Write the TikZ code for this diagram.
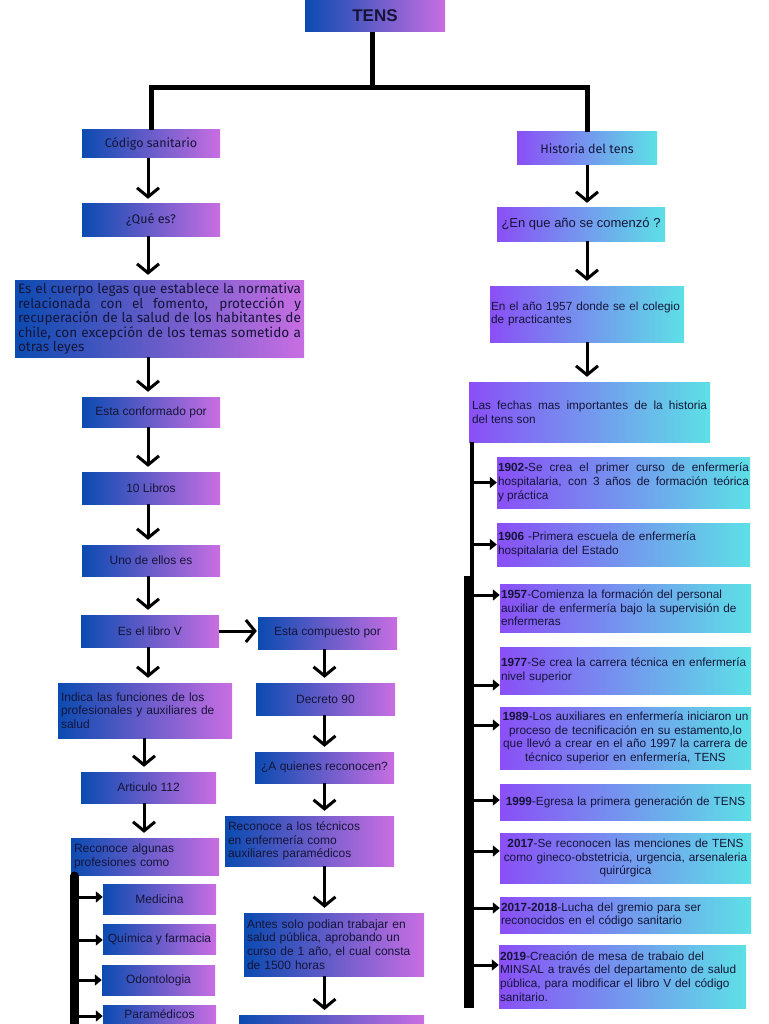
\documentclass[tikz,border=0pt]{standalone}
\usepackage{fontspec}
\setmainfont{Liberation Sans}
\newfontfamily\canvafont{Fira Sans}
\usetikzlibrary{arrows.meta}

\definecolor{codeblue}{HTML}{0B4BB1}
\definecolor{codepink}{HTML}{C86EE2}
\definecolor{histpurple}{HTML}{8A4FF6}
\definecolor{histcyan}{HTML}{5DE0E6}
\definecolor{ink}{HTML}{15153A}

\begin{document}
\begin{tikzpicture}[
    x=1pt, y=-1pt,
    font=\fontsize{12pt}{13.7pt}\selectfont,
    canva/.style={font=\canvafont\fontsize{12.5pt}{13.7pt}\selectfont},
    codebox/.style={rectangle, left color=codeblue, right color=codepink, text=ink, inner xsep=3pt, inner ysep=2pt},
    histbox/.style={rectangle, left color=histpurple, right color=histcyan, text=ink, inner xsep=1pt, inner ysep=2pt,
        font=\fontsize{11.8pt}{13.7pt}\selectfont},
    down/.style={line width=3pt, -{Straight Barb[length=9pt, width=22pt, line width=3pt]}, shorten >=5pt},
    branch/.style={line width=3pt, -{Triangle[length=7pt, width=11pt]}},
    trunk/.style={line width=5pt},
    spine/.style={line width=9pt, line cap=round}
]
    \useasboundingbox (0,0) rectangle (768,1024);

    % root
    \node[codebox, font=\bfseries\fontsize{17pt}{20pt}\selectfont, minimum width=140pt, minimum height=32pt] (tens) at (375,16) {TENS};

    % codigo sanitario
    \node[codebox, canva, minimum width=138pt, minimum height=28pt] (codigo) at (151,144) {Código sanitario};
    \node[codebox, canva, minimum width=138pt, minimum height=32pt] (quees) at (151,220) {¿Qué es?};
    \node[codebox, font=\canvafont\fontsize{13.6pt}{13.7pt}\selectfont, text width=283pt, align=justify, minimum height=77pt] (cuerpo) at (159.5,318.5) {Es el cuerpo legas que establece la normativa\linebreak relacionada con el fomento, protección y\linebreak recuperación de la salud de los habitantes de\linebreak chile, con excepción de los temas sometido a\linebreak otras leyes};
    \node[codebox, minimum width=138pt, minimum height=30pt] (conformado) at (151,412) {Esta conformado por};
    \node[codebox, minimum width=138pt, minimum height=32pt] (libros) at (151,488) {10 Libros};
    \node[codebox, minimum width=138pt, minimum height=31pt] (unode) at (151,560.5) {Uno de ellos es};
    \node[codebox, minimum width=138pt, minimum height=32pt] (librov) at (150,631) {Es el libro V};
    \node[codebox, text width=168pt, align=left, minimum height=55pt] (indica) at (145,710.5) {Indica las funciones de los\\ profesionales y auxiliares de\\ salud};
    \node[codebox, minimum width=135pt, minimum height=31pt] (articulo) at (148.5,787.5) {Articulo 112};
    \node[codebox, text width=142pt, align=left, minimum height=37pt] (reconoce) at (145,856.5) {Reconoce algunas\\ profesiones como};
    \node[codebox, minimum width=113pt, minimum height=30pt] (medicina) at (159.5,899) {Medicina};
    \node[codebox, minimum width=113pt, minimum height=30pt] (quimica) at (159.5,939) {Química y farmacia};
    \node[codebox, minimum width=113pt, minimum height=30pt] (odonto) at (158.5,980) {Odontologia};
    \node[codebox, minimum width=113pt, text depth=30pt, inner ysep=4pt, anchor=north] (paramed) at (159.5,1005) {Paramédicos};

    % libro V
    \node[codebox, minimum width=139pt, minimum height=32pt] (compuesto) at (327.5,633) {Esta compuesto por};
    \node[codebox, minimum width=139pt, minimum height=32pt] (decreto) at (325.5,699) {Decreto 90};
    \node[codebox, minimum width=139pt, minimum height=31pt] (aquienes) at (324.5,767.5) {¿A quienes reconocen?};
    \node[codebox, text width=163pt, align=left, minimum height=50pt] (tecnicos) at (309.5,841) {Reconoce a los técnicos\\ en enfermería como\\ auxiliares paramédicos};
    \node[codebox, text width=174pt, align=left, minimum height=63pt] (antes) at (334,944.5) {Antes solo podian trabajar en\\ salud pública, aprobando un\\ curso de 1 año, el cual consta\\ de 1500 horas};
    \node[codebox, minimum width=185pt, minimum height=40pt, anchor=north] (ultimo) at (331.5,1015) {};

    % historia del tens
    \node[histbox, canva, minimum width=140pt, minimum height=33pt] (historia) at (587,148.5) {Historia del tens};
    \node[histbox, font=\fontsize{13pt}{15pt}\selectfont, minimum width=168pt, minimum height=33pt] (comienzo) at (581,224.5) {¿En que año se comenzó ?};
    \node[histbox, text width=192pt, align=left, minimum height=56pt] (colegio) at (587,314) {En el año 1957 donde se el colegio\\ de practicantes};
    \node[histbox, inner xsep=3pt, text width=235pt, align=justify, minimum height=60pt] (fechas) at (589.5,412) {Las fechas mas importantes de la historia\linebreak del tens son};

    \node[histbox, text width=251pt, align=justify, minimum height=51pt] (y1902) at (623.5,482.5) {\textbf{1902-}Se crea el primer curso de enfermería\linebreak hospitalaria, con 3 años de formación teórica\linebreak y práctica};
    \node[histbox, text width=251pt, align=left, minimum height=43pt] (y1906) at (623.5,544.5) {\textbf{1906} -Primera escuela de enfermería\\ hospitalaria del Estado};
    \node[histbox, text width=249pt, align=left, minimum height=48pt] (y1957) at (625.5,608) {\textbf{1957}-Comienza la formación del personal\\ auxiliar de enfermería bajo la supervisión de\\ enfermeras};
    \node[histbox, text width=249pt, align=left, minimum height=47pt] (y1977) at (625.5,670.5) {\textbf{1977}-Se crea la carrera técnica en enfermería\\ nivel superior};
    \node[histbox, text width=249pt, align=center, minimum height=62pt] (y1989) at (625.5,738) {\textbf{1989}-Los auxiliares en enfermería iniciaron un\\ proceso de tecnificación en su estamento,lo\\ que llevó a crear en el año 1997 la carrera de\\ técnico superior en enfermería, TENS};
    \node[histbox, text width=249pt, align=center, minimum height=36pt] (y1999) at (625.5,802) {\textbf{1999}-Egresa la primera generación de TENS};
    \node[histbox, text width=249pt, align=center, minimum height=50pt] (y2017) at (625.5,858) {\textbf{2017}-Se reconocen las menciones de TENS\\ como gineco-obstetricia, urgencia, arsenaleria\\ quirúrgica};
    \node[histbox, text width=249pt, align=left, minimum height=36pt] (y2018) at (625.5,915) {\textbf{2017-2018}-Lucha del gremio para ser\\ reconocidos en el código sanitario};
    \node[histbox, text width=245pt, align=left, minimum height=63pt] (y2019) at (622.5,976.5) {\textbf{2019}-Creación de mesa de trabaio del\\ MINSAL a través del departamento de salud\\ pública, para modificar el libro V del código\\ sanitario.};

    % tree from the root
    \coordinate (hub) at (372,88);
    \draw[trunk] (tens.south -| hub) -- (hub);
    \draw[trunk] (codigo.north) |- (hub) -| (historia.north);

    % columns of arrows
    \coordinate (lcol) at (148,0);
    \coordinate (lcolb) at (144,0);
    \coordinate (mcol) at (324.5,0);
    \coordinate (rcol) at (587,0);
    \foreach \a/\b/\c in {codigo/quees/lcol, quees/cuerpo/lcol, cuerpo/conformado/lcol,
        conformado/libros/lcol, libros/unode/lcol, unode/librov/lcol, librov/indica/lcol,
        indica/articulo/lcolb, articulo/reconoce/lcolb,
        compuesto/decreto/mcol, decreto/aquienes/mcol, aquienes/tecnicos/mcol,
        tecnicos/antes/mcol, antes/ultimo/mcol,
        historia/comienzo/rcol, comienzo/colegio/rcol, colegio/fechas/rcol}
        \draw[down] (\a.south -| \c) -- (\b.north -| \c);
    \draw[down, shorten >=1pt] (librov.east) -- (librov.east -| compuesto.west);

    % professions
    \coordinate (lspine) at (74.5,876);
    \coordinate (lspine-end) at (74.5,1034);
    \draw[spine] (lspine) -- (lspine-end);
    \coordinate (medicina-tip) at ([yshift=2pt]medicina.west);
    \coordinate (quimica-tip) at ([yshift=-1pt]quimica.west);
    \coordinate (odonto-tip) at (odonto.west);
    \coordinate (paramed-tip) at ([yshift=-11pt]paramed.north west);
    \foreach \n in {medicina, quimica, odonto, paramed}
        \draw[branch] (lspine |- \n-tip) -- (\n-tip);

    % timeline
    \coordinate (rspine) at (471.5,442);
    \coordinate (rspine-mid) at (471.5,580);
    \coordinate (rspine-low) at (468.5,576);
    \coordinate (rspine-end) at (468.5,1008);
    \draw[line width=4pt] (rspine) -- (rspine-mid);
    \draw[line width=10pt] (rspine-low) -- (rspine-end);
    \foreach \n/\dy in {y1902/0, y1906/0, y1957/13, y1977/-14.5, y1989/13,
        y1999/2, y2017/7, y2018/7, y2019/11.5} {
        \coordinate (\n-tip) at ([yshift=\dy pt]\n.west);
        \draw[branch] (rspine |- \n-tip) -- (\n-tip);
    }
\end{tikzpicture}
\end{document}
